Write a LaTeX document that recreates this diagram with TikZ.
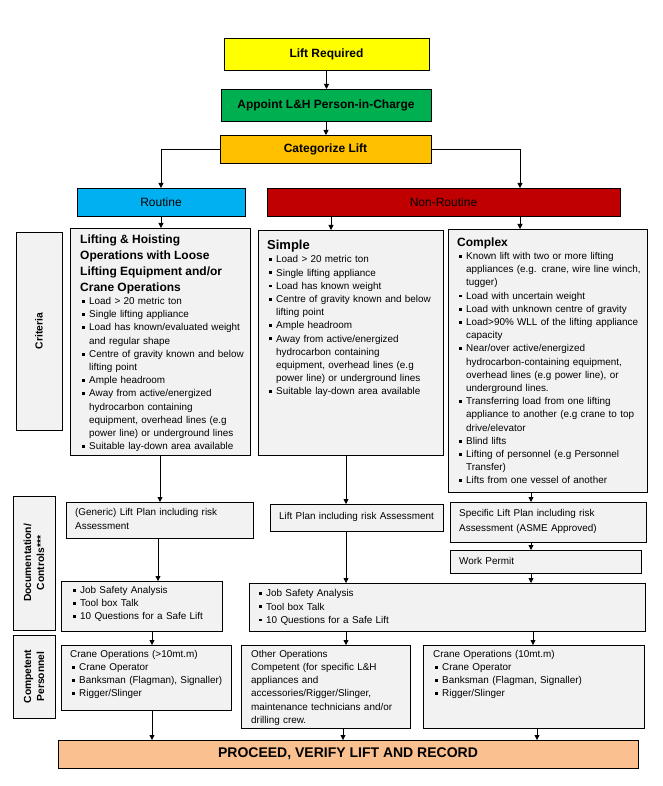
\documentclass[tikz,border=0pt]{standalone}
\usepackage{fontspec}
\setmainfont{Liberation Sans}
\usetikzlibrary{arrows.meta}
\definecolor{cYel}{HTML}{FFFF00}
\definecolor{cGrn}{HTML}{00B050}
\definecolor{cOrg}{HTML}{FFC000}
\definecolor{cCya}{HTML}{00B0F0}
\definecolor{cRed}{HTML}{C00000}
\definecolor{cGry}{HTML}{F2F2F2}
\definecolor{cPch}{HTML}{FAC090}
\newcommand\bodyf{\fontsize{9.9}{13.2}\selectfont}
\newcommand\bltmark{\makebox[9pt][l]{\hspace{1.5pt}\rule[1.8pt]{2.8pt}{2.8pt}}}
\newcommand\blt{\par\noindent\bltmark}
\newcommand\bltf{\noindent\bltmark}
\newcommand\brk{\par\noindent\hspace*{9pt}}
\newcommand\mkbox[7]{\node[box,#2,minimum width={(#5-#3)*1pt},minimum height={(#6-#4)*1pt}] (#1) at (#3,#4) {#7};}
\begin{document}
\begin{tikzpicture}[x=1pt,y=-1pt,
  box/.style={draw,line width=0.9pt,anchor=north west,inner sep=0pt,outer sep=0pt,fill=cGry},
  ttl/.style={font=\fontsize{12}{14}\selectfont\bfseries},
  arr/.style={-{Triangle[length=5pt,width=5pt]},line width=0.8pt},
  txt/.style={anchor=north west,inner sep=0pt,align=left,font=\bodyf},
  vlab/.style={rotate=90,align=center,font=\fontsize{10.3}{13}\selectfont\bfseries}]
\useasboundingbox (0,0) rectangle (663,786);
% top boxes
\mkbox{lift}{fill=cYel,ttl}{224}{38}{429}{70}{Lift Required}
\mkbox{appoint}{fill=cGrn,ttl}{221}{89}{431}{121}{Appoint L\&H Person-in-Charge}
\mkbox{cat}{fill=cOrg,ttl}{220}{135}{431}{163}{Categorize Lift}
\mkbox{routine}{fill=cCya,font=\fontsize{12}{14}\selectfont}{77}{188}{245}{216}{Routine}
\mkbox{nonr}{fill=cRed,font=\fontsize{12}{14}\selectfont}{267}{188}{620}{216}{Non-Routine}
% criteria
\mkbox{rcrit}{}{70}{228}{250}{455}{}
\mkbox{simple}{}{258}{230}{443}{455}{}
\mkbox{complex}{}{448}{229}{647}{492}{}
\mkbox{critlab}{}{16}{232}{62}{430}{}
\mkbox{doclab}{}{13}{496}{55}{630}{}
\mkbox{complab}{}{13}{635}{55}{718}{}
% documentation
\mkbox{generic}{}{66}{502}{253}{538}{}
\mkbox{lplan}{}{270}{504}{443}{531}{}
\mkbox{spec}{}{450}{502}{646}{542}{}
\mkbox{wp}{}{450}{550}{641}{573}{}
\mkbox{jsaL}{}{61}{581}{222}{631}{}
\mkbox{jsaR}{}{249}{583}{645}{631}{}
% personnel
\mkbox{craneL}{}{61}{645}{231}{710}{}
\mkbox{other}{}{241}{645}{410}{728}{}
\mkbox{craneR}{}{423}{645}{644}{728}{}
\mkbox{proceed}{fill=cPch,font=\fontsize{14}{16}\selectfont\bfseries}{58}{740}{638}{768}{PROCEED, VERIFY LIFT AND RECORD}
% side labels
\node[vlab] (critT) at (critlab.center) {Criteria};
\node[vlab] (docT) at (doclab.center) {Documentation/\\Controls***};
\node[vlab] (compT) at (complab.center) {Competent\\Personnel};
% texts
\node[txt,text width=170pt] (rcritT) at (80,234.5) {\noindent{\fontsize{12}{16}\selectfont\bfseries Lifting \& Hoisting\\Operations with Loose\\Lifting Equipment and/or\\Crane Operations\par}%
\blt Load > 20 metric ton
\blt Single lifting appliance
\blt Load has known/evaluated weight\brk and regular shape
\blt Centre of gravity known and below\brk lifting point
\blt Ample headroom
\blt Away from active/energized\brk hydrocarbon containing\brk equipment, overhead lines (e.g\brk power line) or underground lines
\blt Suitable lay-down area available};
\node[txt,text width=180pt] (simpleT) at (267,240) {\noindent{\fontsize{13}{15}\selectfont\bfseries Simple\par}%
\blt Load > 20 metric ton
\blt Single lifting appliance
\blt Load has known weight
\blt Centre of gravity known and below\brk lifting point
\blt Ample headroom
\blt Away from active/energized\brk hydrocarbon containing\brk equipment, overhead lines (e.g\brk power line) or underground lines
\blt Suitable lay-down area available};
\node[txt,text width=190pt] (complexT) at (457,237.5) {\noindent{\fontsize{12}{14}\selectfont\bfseries Complex\par}%
\blt Known lift with two or more lifting\brk appliances (e.g. crane, wire line winch,\brk tugger)
\blt Load with uncertain weight
\blt Load with unknown centre of gravity
\blt Load>90\% WLL of the lifting appliance\brk capacity
\blt Near/over active/energized\brk hydrocarbon-containing equipment,\brk overhead lines (e.g power line), or\brk underground lines.
\blt Transferring load from one lifting\brk appliance to another (e.g crane to top\brk drive/elevator
\blt Blind lifts
\blt Lifting of personnel (e.g Personnel\brk Transfer)
\blt Lifts from one vessel of another};
\node[txt,text width=175pt] (genericT) at (75,508.5) {\noindent(Generic) Lift Plan including risk\\Assessment};
\node[txt,text width=165pt] (lplanT) at (279,512) {\noindent Lift Plan including risk Assessment};
\node[txt,text width=185pt,font=\fontsize{9.9}{15}\selectfont] (specT) at (459,509.5) {\noindent Specific Lift Plan including risk\\Assessment (ASME Approved)};
\node[txt,text width=150pt] (wpT) at (459,557) {\noindent Work Permit};
\node[txt,text width=150pt] (jsaLT) at (71,586) {\bltf Job Safety Analysis\blt Tool box Talk\blt 10 Questions for a Safe Lift};
\node[txt,text width=150pt] (jsaRT) at (257,589.5) {\bltf Job Safety Analysis\blt Tool box Talk\blt 10 Questions for a Safe Lift};
\node[txt,text width=165pt] (craneLT) at (70,650) {\noindent Crane Operations (>10mt.m)\blt Crane Operator\blt Banksman (Flagman), Signaller)\blt Rigger/Slinger};
\node[txt,text width=165pt] (otherT) at (251,650) {\noindent Other Operations\\Competent (for specific L\&H\\appliances and\\accessories/Rigger/Slinger,\\maintenance technicians and/or\\drilling crew.};
\node[txt,text width=200pt] (craneRT) at (433,650) {\noindent Crane Operations (10mt.m)\blt Crane Operator\blt Banksman (Flagman, Signaller)\blt Rigger/Slinger};
% x positions of connectors
\coordinate (xR) at (520,0);
\coordinate (xS) at (331,0);
\coordinate (xL) at (346,0);
\coordinate (xC) at (531,0);
\coordinate (xG) at (158,0);
\coordinate (xP) at (152,0);
\coordinate (xQ) at (533,0);
\coordinate (xO) at (343,0);
\coordinate (xT) at (537,0);
% connectors
\draw[arr] (lift.south) -- (lift.south |- appoint.north);
\draw[arr] (appoint.south) -- (appoint.south |- cat.north);
\draw[arr] (cat.west) -| (routine.north);
\draw[arr] (cat.east) -| (nonr.north -| xR);
\draw[arr] (routine.south) -- (routine.south |- rcrit.north);
\draw[arr] (nonr.south -| xS) -- (simple.north -| xS);
\draw[arr] (nonr.south -| xR) -- (complex.north -| xR);
\draw[arr] (rcrit.south) -- (rcrit.south |- generic.north);
\draw[arr] (simple.south -| xL) -- (lplan.north -| xL);
\draw[arr] (complex.south -| xC) -- (spec.north -| xC);
\draw[arr] (spec.south -| xC) -- (wp.north -| xC);
\draw[arr] (generic.south -| xG) -- (jsaL.north -| xG);
\draw[arr] (lplan.south -| xL) -- (jsaR.north -| xL);
\draw[arr] (wp.south -| xC) -- (jsaR.north -| xC);
\draw[arr] (jsaL.south -| xP) -- (craneL.north -| xP);
\draw[arr] (jsaR.south -| xL) -- (other.north -| xL);
\draw[arr] (jsaR.south -| xQ) -- (craneR.north -| xQ);
\draw[arr] (craneL.south -| xP) -- (proceed.north -| xP);
\draw[arr] (other.south -| xO) -- (proceed.north -| xO);
\draw[arr] (craneR.south -| xT) -- (proceed.north -| xT);
\end{tikzpicture}
\end{document}
